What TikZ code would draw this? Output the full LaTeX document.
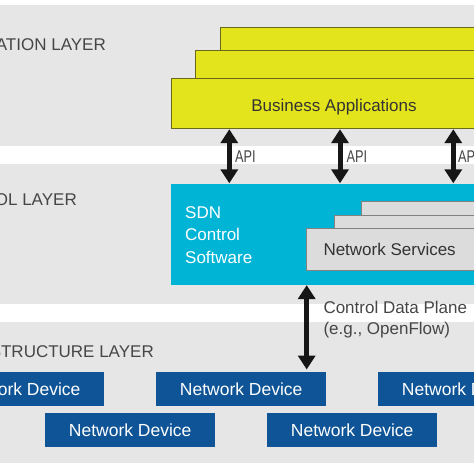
\documentclass[tikz,border=0pt]{standalone}
\usepackage{fontspec}
\setmainfont{Liberation Sans}
\usetikzlibrary{arrows.meta}
\definecolor{bandgray}{RGB}{230,230,230}
\definecolor{appyellow}{RGB}{228,228,28}
\definecolor{olive}{RGB}{105,105,30}
\definecolor{sdncyan}{RGB}{0,180,214}
\definecolor{svcgray}{RGB}{220,220,220}
\definecolor{svcborder}{RGB}{130,130,130}
\definecolor{devblue}{RGB}{14,84,150}
\definecolor{labelgray}{RGB}{70,70,70}
\definecolor{arrowblack}{RGB}{22,22,22}
\tikzset{
  txt/.style={inner sep=0pt, font=\fontsize{17}{22.5}\selectfont},
  layerlbl/.style={txt, text=labelgray, anchor=base east},
  appbox/.style={draw=olive, line width=0.9pt, fill=appyellow, anchor=north west, inner sep=0pt},
  svcbox/.style={draw=svcborder, line width=0.8pt, fill=svcgray, anchor=north west, inner sep=0pt},
  devbox/.style={fill=devblue, anchor=north west, inner sep=0pt, minimum width=170pt,
    text=white, font=\fontsize{17.5}{20}\selectfont},
  dblarrow/.style={draw=arrowblack, line width=5pt,
    {Triangle[width=17pt,length=14pt]}-{Triangle[width=17pt,length=14pt]}},
  apilbl/.style={txt, text=labelgray, anchor=base west}
}
\begin{document}
\begin{tikzpicture}[x=1pt,y=-1pt]
\useasboundingbox (0,0) rectangle (474,474);
\clip (0,0) rectangle (474,474);
\fill[white] (0,0) rectangle (474,474);
% layer bands
\fill[bandgray] (0,5) rectangle (474,146);
\fill[bandgray] (0,164) rectangle (474,304);
\fill[bandgray] (0,322) rectangle (474,463);
% layer labels
\node[layerlbl] (applbl) at (106,50.5) {APPLICATION LAYER};
\node[layerlbl] (ctllbl) at (77,205.5) {CONTROL LAYER};
\node[layerlbl] (inflbl) at (154,357.3) {INFRASTRUCTURE LAYER};
% application boxes
\node[appbox, minimum width=300pt, minimum height=40pt] (app3) at (220,26.7) {};
\node[appbox, minimum width=320pt, minimum height=40pt] (app2) at (195,49.5) {};
\node[appbox, minimum width=340pt, minimum height=50.8pt] (biz) at (170.7,77.5) {};
\node[txt, text=black!80, anchor=base] (biztxt) at (334,111) {Business Applications};
% control box
\node[fill=sdncyan, anchor=north west, inner sep=0pt, minimum width=340pt, minimum height=101.4pt] (sdn) at (170.5,183.3) {};
\node[txt, text=white, anchor=base west, align=left] (sdntxt) at (185,263) {SDN\\Control\\Software};
\node[svcbox, minimum width=150pt, minimum height=40pt] (svc3) at (361,201) {};
\node[svcbox, minimum width=170pt, minimum height=40pt] (svc2) at (334,215) {};
\node[svcbox, minimum width=200pt, minimum height=42.3pt] (svc) at (306,227.7) {};
\node[txt, text=black!80, anchor=base west] (svctxt) at (323.3,255) {Network Services};
% devices
\node[devbox, minimum height=33.5pt] (dev1) at (-66,372) {Network Device};
\node[devbox, minimum height=33.5pt] (dev2) at (156,372) {Network Device};
\node[devbox, minimum height=33.5pt] (dev3) at (378,372) {Network Device};
\node[devbox, minimum height=34pt] (dev4) at (45,413) {Network Device};
\node[devbox, minimum height=34pt] (dev5) at (267,413) {Network Device};
% API arrows
\coordinate (a1) at (229.3,0);
\coordinate (a2) at (340,0);
\coordinate (a3) at (453.3,0);
\draw[dblarrow] (a1 |- biz.south) -- (a1 |- sdn.north);
\draw[dblarrow] (a2 |- biz.south) -- (a2 |- sdn.north);
\draw[dblarrow] (a3 |- biz.south) -- (a3 |- sdn.north);
\node[apilbl] (api1) at (235,162.3) {\scalebox{0.75}[1]{API}};
\node[apilbl] (api2) at (346.5,162.3) {\scalebox{0.75}[1]{API}};
\node[apilbl] (api3) at (458,162.3) {\scalebox{0.75}[1]{API}};
% control-data plane arrow
\coordinate (c1) at (306.7,0);
\draw[dblarrow, shorten >=2.5pt] (c1 |- sdn.south) -- (c1 |- dev2.north);
\node[txt, text=labelgray, anchor=base west] (cdp1) at (323.3,313.3) {Control Data Plane};
\node[txt, text=labelgray, anchor=base west] (cdp2) at (323.3,334) {(e.g., OpenFlow)};
\end{tikzpicture}
\end{document}
